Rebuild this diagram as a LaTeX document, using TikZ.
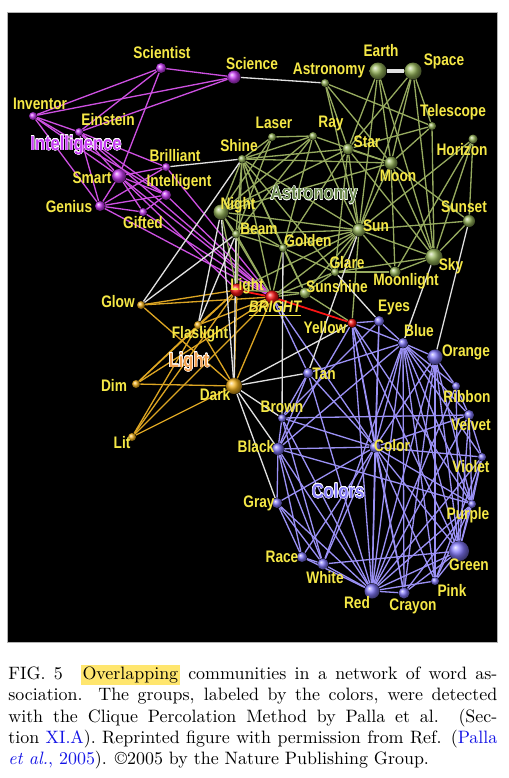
\documentclass[tikz,border=0pt]{standalone}
\usepackage{fontspec}
\usepackage{xcolor}
\usepackage{contour}
\newfontfamily\lblfont[FakeStretch=0.82]{Liberation Sans}
\contourlength{0.2pt}
\definecolor{lblyel}{RGB}{245,232,70}
\definecolor{magB}{RGB}{200,60,245}
\definecolor{magE}{RGB}{205,80,225}
\definecolor{grnB}{RGB}{150,180,90}
\definecolor{grnE}{RGB}{150,170,95}
\definecolor{grnT}{RGB}{105,135,75}
\definecolor{redB}{RGB}{250,20,20}
\definecolor{orgB}{RGB}{245,180,30}
\definecolor{orgE}{RGB}{220,165,35}
\definecolor{orgT}{RGB}{240,160,80}
\definecolor{bluB}{RGB}{130,120,250}
\definecolor{bluE}{RGB}{155,145,245}
\definecolor{bluT}{RGB}{130,120,245}
\definecolor{whtE}{RGB}{225,225,225}
\definecolor{hlyel}{RGB}{255,230,110}
\definecolor{linkblu}{RGB}{20,20,230}
\newcommand{\pu}{0.02cm}
\pgfdeclarelayer{back}
\pgfdeclarelayer{edges}
\pgfsetlayers{back,edges,main}
\tikzset{
  ball/.style={circle,inner sep=0pt,shading=ball,ball color=#1},
  lbl/.style={text=lblyel,inner sep=0pt,font=\lblfont\bfseries\fontsize{9.5}{10}\selectfont},
  grp/.style={inner sep=0pt,font=\lblfont\bfseries\fontsize{11.5}{12}\selectfont},
  link/.style={line width=0.75pt,draw=#1}
}

\begin{document}
\begin{tikzpicture}[x=0.02cm,y=-0.02cm]
  \begin{pgfonlayer}{back}
    \fill[white](0,0)rectangle(508,778);
    \filldraw[black,draw=gray!60,line width=0.4pt](7,12)rectangle(497,642);
  \end{pgfonlayer}
  % Intelligence
  \node[ball=magB,minimum size=10*\pu](scientist)at(161,68){};
  \node[ball=magB,minimum size=13*\pu](science)at(234,77){};
  \node[ball=magB,minimum size=8*\pu](inventor)at(33,116){};
  \node[ball=magB,minimum size=8*\pu](einstein)at(79,132){};
  \node[ball=magB,minimum size=14*\pu](smart)at(119,176){};
  \node[ball=magB,minimum size=8*\pu](brilliant)at(166,167){};
  \node[ball=magB,minimum size=10*\pu](intelligent)at(166,195){};
  \node[ball=magB,minimum size=10*\pu](genius)at(100,206){};
  \node[ball=magB,minimum size=8*\pu](gifted)at(143,212){};
  % Astronomy
  \node[ball=grnB,minimum size=8*\pu](astronomy)at(325,83){};
  \node[ball=grnB,minimum size=17*\pu](earth)at(378,71){};
  \node[ball=grnB,minimum size=17*\pu](space)at(413,71){};
  \node[ball=grnB,minimum size=8*\pu](telescope)at(432,126){};
  \node[ball=grnB,minimum size=9*\pu](horizon)at(473,139){};
  \node[ball=grnB,minimum size=8*\pu](laser)at(272,137){};
  \node[ball=grnB,minimum size=8*\pu](ray)at(313,136){};
  \node[ball=grnB,minimum size=11*\pu](star)at(348,149){};
  \node[ball=grnB,minimum size=13*\pu](moon)at(391,163){};
  \node[ball=grnB,minimum size=8*\pu](shine)at(242,159){};
  \node[ball=grnB,minimum size=15*\pu](night)at(221,212){};
  \node[ball=grnB,minimum size=8*\pu](beam)at(236,234){};
  \node[ball=grnB,minimum size=8*\pu](golden)at(283,248){};
  \node[ball=grnB,minimum size=13*\pu](sun)at(359,230){};
  \node[ball=grnB,minimum size=12*\pu](sunset)at(469,221){};
  \node[ball=grnB,minimum size=17*\pu](sky)at(434,257){};
  \node[ball=grnB,minimum size=8*\pu](glare)at(335,272){};
  \node[ball=grnB,minimum size=11*\pu](moonlight)at(395,272){};
  \node[ball=grnB,minimum size=11*\pu](sunshine)at(305,293){};
  % Bright
  \node[ball=redB,minimum size=13*\pu](light)at(237,290){};
  \node[ball=redB,minimum size=13*\pu](bright)at(272,297){};
  \node[ball=redB,minimum size=9*\pu](yellow)at(352,323){};
  % Light
  \node[ball=orgB,minimum size=8*\pu](glow)at(141,305){};
  \node[ball=orgB,minimum size=8*\pu](flaslight)at(198,325){};
  \node[ball=orgB,minimum size=8*\pu](dim)at(136,384){};
  \node[ball=orgB,minimum size=16*\pu](dark)at(234,386){};
  \node[ball=orgB,minimum size=8*\pu](lit)at(132,437){};
  % Colors
  \node[ball=bluB,minimum size=10*\pu](eyes)at(379,321){};
  \node[ball=bluB,minimum size=10*\pu](blue)at(403,343){};
  \node[ball=bluB,minimum size=15*\pu](orange)at(435,357){};
  \node[ball=bluB,minimum size=10*\pu](tan)at(308,373){};
  \node[ball=bluB,minimum size=8*\pu](ribbon)at(456,386){};
  \node[ball=bluB,minimum size=8*\pu](brown)at(282,418){};
  \node[ball=bluB,minimum size=10*\pu](velvet)at(469,415){};
  \node[ball=bluB,minimum size=12*\pu](black)at(278,449){};
  \node[ball=bluB,minimum size=11*\pu](color)at(375,447){};
  \node[ball=bluB,minimum size=8*\pu](violet)at(482,457){};
  \node[ball=bluB,minimum size=10*\pu](gray)at(277,503){};
  \node[ball=bluB,minimum size=8*\pu](purple)at(472,504){};
  \node[ball=bluB,minimum size=20*\pu](green)at(459,551){};
  \node[ball=bluB,minimum size=10*\pu](race)at(302,557){};
  \node[ball=bluB,minimum size=11*\pu](white)at(323,564){};
  \node[ball=bluB,minimum size=8*\pu](pink)at(435,581){};
  \node[ball=bluB,minimum size=15*\pu](red)at(372,591){};
  \node[ball=bluB,minimum size=11*\pu](crayon)at(404,593){};
  % word labels
  \foreach \n/\x/\y/\t in {scientist/162/53/Scientist,science/252/64/Science,inventor/40/104/Inventor,
    einstein/108/120/Einstein,smart/92/178/Smart,brilliant/175/156/Brilliant,intelligent/179/182/Intelligent,
    genius/69/207/Genius,gifted/143/223/Gifted,astronomy/329/70/Astronomy,earth/381/51/Earth,
    space/444/61/Space,telescope/453/112/Telescope,horizon/462/150/Horizon,laser/274/123/Laser,
    ray/331/123/Ray,star/367/142/Star,moon/398/176/Moon,shine/239/146/Shine,night/238/205/Night,
    beam/259/229/Beam,golden/308/241/Golden,sun/376/226/Sun,sunset/464/207/Sunset,sky/451/266/Sky,
    glare/347/263/Glare,moonlight/406/281/Moonlight,sunshine/337/287/Sunshine,light/247/286/Light,
    yellow/325/328/Yellow,glow/118/302/Glow,flaslight/200/334/Flaslight,dim/114/385/Dim,
    dark/215/395/Dark,lit/122/443/Lit,eyes/394/307/Eyes,blue/419/331/Blue,orange/466/352/Orange,
    tan/324/374/Tan,ribbon/467/397/Ribbon,brown/282/407/Brown,velvet/471/425/Velvet,black/256/447/Black,
    color/392/446/Color,violet/471/467/Violet,gray/259/503/Gray,purple/468/515/Purple,green/469/565/Green,
    race/282/557/Race,white/325/578/White,pink/452/590/Pink,red/357/603/Red,crayon/413/606/Crayon}
    \node[lbl](\n-l)at(\x,\y){\t};
  \node[lbl](bright-l)at(275,309){\underline{\itshape BRIGHT}};
  % community names
  \node[grp](intelligence-g)at(76,145){\contour{white}{\textcolor{magB}{Intelligence}}};
  \node[grp](astronomy-g)at(314,195){\contour{white}{\textcolor{grnT}{Astronomy}}};
  \node[grp](light-g)at(189,362){\contour{white}{\textcolor{orgT}{Light}}};
  \node[grp](colors-g)at(338,491){\contour{white}{\textcolor{bluT}{Colors}}};
  \begin{pgfonlayer}{edges}
    \foreach \a/\b in {scientist/science,scientist/inventor,scientist/einstein,scientist/smart,
      science/inventor,science/einstein,inventor/einstein,inventor/smart,inventor/genius,inventor/intelligent,
      einstein/smart,einstein/genius,einstein/brilliant,einstein/intelligent,einstein/bright,
      smart/genius,smart/brilliant,smart/intelligent,smart/gifted,smart/bright,smart/light,
      genius/brilliant,genius/intelligent,genius/gifted,genius/bright,gifted/intelligent,gifted/bright,
      brilliant/bright,intelligent/bright}
      \draw[link=magE](\a)--(\b);
    \foreach \a/\b in {astronomy/star,astronomy/moon,astronomy/telescope,astronomy/sun,
      earth/star,earth/moon,earth/sun,earth/sky,space/star,space/moon,space/telescope,space/sky,space/sun,
      telescope/star,telescope/moon,telescope/sky,horizon/sunset,horizon/sky,horizon/sun,horizon/moonlight,
      laser/ray,laser/shine,laser/beam,laser/night,ray/shine,ray/sun,ray/beam,ray/golden,ray/night,ray/moon,
      star/shine,star/moon,star/sun,star/sky,star/night,star/golden,star/glare,
      moon/shine,moon/sun,moon/sky,moon/moonlight,moon/night,moon/sunset,
      shine/sun,shine/night,shine/beam,shine/golden,shine/glare,shine/sunshine,shine/light,shine/bright,
      sun/sunset,sun/sky,sun/night,sun/beam,sun/golden,sun/glare,sun/moonlight,sun/sunshine,sun/light,
      sun/bright,sun/yellow,sky/sunset,sky/moonlight,sky/glare,night/beam,night/light,night/bright,
      night/golden,beam/golden,beam/light,beam/bright,golden/bright,golden/sunshine,golden/glare,
      glare/bright,glare/sunshine,glare/moonlight,sunshine/bright,sunshine/yellow,sunshine/light}
      \draw[link=grnE](\a)--(\b);
    \foreach \a/\b in {glow/light,glow/bright,glow/dark,flaslight/light,flaslight/bright,flaslight/dim,
      flaslight/lit,flaslight/dark,dim/dark,dim/light,dim/bright,lit/dark,lit/light,lit/bright,
      dark/light,dark/bright}
      \draw[link=orgE](\a)--(\b);
    \foreach \a/\b in {bright/color,bright/tan,yellow/eyes,yellow/blue,yellow/color,yellow/red,
      yellow/green,yellow/black,yellow/purple,yellow/crayon,eyes/blue,eyes/color,eyes/red,eyes/brown,
      blue/orange,blue/tan,blue/ribbon,blue/velvet,blue/violet,blue/purple,blue/green,blue/pink,
      blue/crayon,blue/red,blue/color,blue/white,blue/black,orange/color,orange/red,orange/purple,
      orange/green,orange/crayon,orange/ribbon,orange/pink,tan/brown,tan/black,tan/color,tan/red,
      ribbon/velvet,ribbon/red,ribbon/green,brown/black,brown/color,brown/red,brown/velvet,brown/white,
      velvet/color,velvet/red,velvet/purple,velvet/green,velvet/violet,black/color,black/gray,
      black/white,black/red,black/race,black/purple,color/violet,color/purple,color/green,color/red,
      color/crayon,color/pink,color/white,color/race,color/gray,violet/purple,violet/red,violet/green,
      violet/pink,gray/race,gray/white,gray/red,purple/green,purple/red,purple/pink,purple/crayon,
      green/red,green/pink,green/crayon,green/white,race/white,race/red,white/red,pink/red,crayon/red}
      \draw[link=bluE](\a)--(\b);
    \foreach \a/\b in {science/astronomy,brilliant/shine,shine/glow,beam/glow,night/flaslight,
      beam/flaslight,night/dark,beam/dark,golden/brown,sun/tan,glare/eyes,sky/blue,sunset/orange,
      dark/tan,dark/yellow,dark/brown,dark/black,dark/gray}
      \draw[link=whtE](\a)--(\b);
    \draw[link=whtE,line width=2pt](earth)--(space);
    \draw[link=redB,line width=1pt](light)--(bright)--(yellow);
  \end{pgfonlayer}
  % caption
  \node[anchor=north west,inner sep=0pt,text width=489*\pu,align=justify,font=\fontsize{10.2}{12.05}\selectfont](caption)at(8,665)
    {FIG.~5\quad{\fboxsep=1pt\colorbox{hlyel}{Overlapping}} communities in a network of word as-\linebreak
    sociation. The groups, labeled by the colors, were detected\linebreak
    with the Clique Percolation Method by Palla et~al. (Sec-\linebreak
    tion \textcolor{linkblu}{XI.A}). Reprinted figure with permission from Ref. (\textcolor{linkblu}{Palla}\linebreak
    \textcolor{linkblu}{\textit{et al.}, 2005}). \textcopyright2005 by the Nature Publishing Group.};
\end{tikzpicture}
\end{document}
